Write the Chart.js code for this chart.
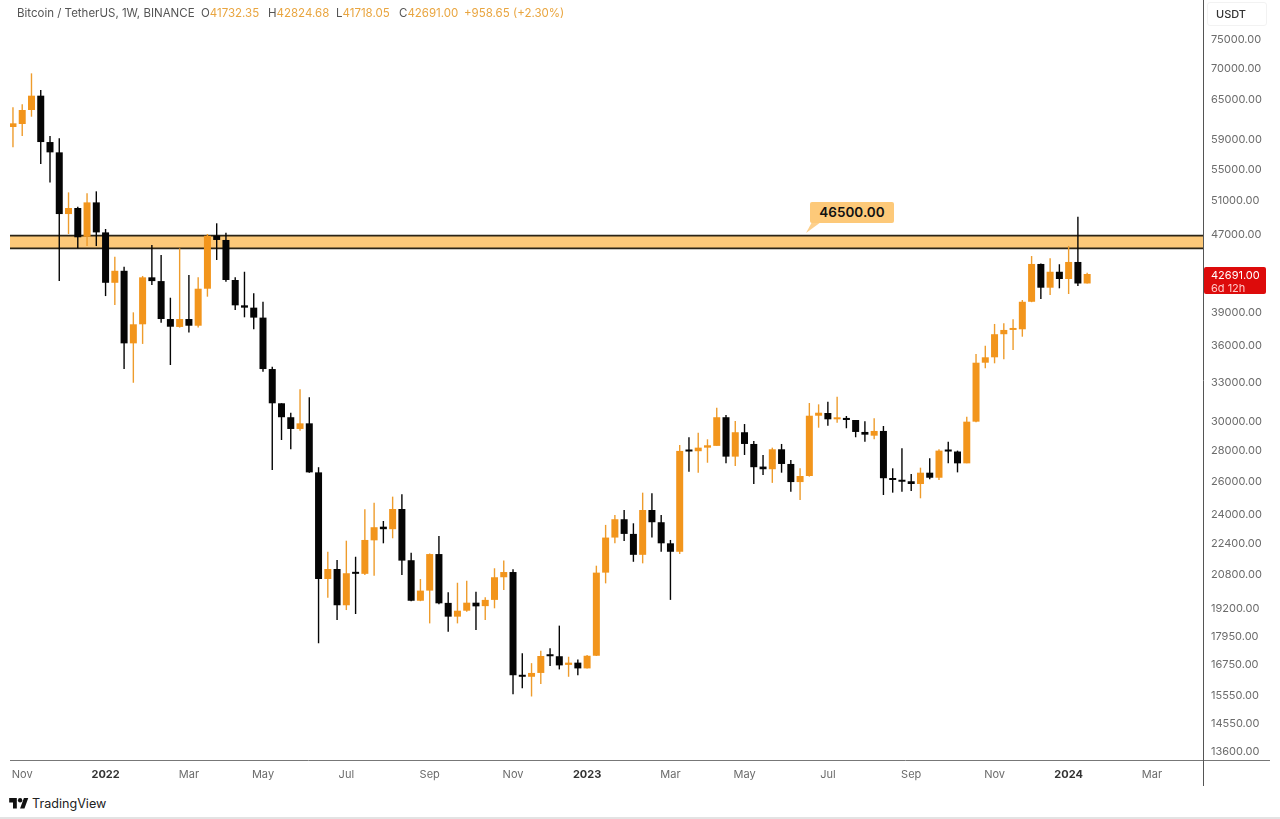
<!DOCTYPE html>
<html>
<head>
<meta charset="utf-8">
<title>Bitcoin / TetherUS</title>
<script src="https://cdn.jsdelivr.net/npm/chart.js@4"></script>
<style>
  html, body { margin: 0; padding: 0; background: #fff; }
  body { width: 1280px; height: 819px; position: relative; overflow: hidden; font-family: Inter, sans-serif; }
  canvas { position: absolute; left: 0; top: 0; }
  .abs { position: absolute; white-space: nowrap; }
  .hdr { top: 6px; font-size: 11.5px; line-height: 14px; color: #e9a53f; }
  .hdr b { font-weight: 400; color: #555; }
</style>
</head>
<body>
<canvas id="grafica" width="1280" height="786"></canvas>

<!-- Cabecera -->
<div class="abs hdr" style="left:17px;color:#555">Bitcoin / TetherUS, 1W, BINANCE</div>
<div class="abs hdr" style="left:201px"><b>O</b>41732.35</div>
<div class="abs hdr" style="left:268px"><b>H</b>42824.68</div>
<div class="abs hdr" style="left:336px"><b>L</b>41718.05</div>
<div class="abs hdr" style="left:399px"><b>C</b>42691.00</div>
<div class="abs hdr" style="left:464px">+958.65 (+2.30%)</div>

<!-- Eje de precios: moneda y etiqueta del último precio -->
<div class="abs" style="left:1207px;top:2px;width:60px;height:24px;border:1px solid #f2f2f2;border-radius:3px;box-sizing:border-box;font-size:11px;font-weight:500;line-height:22px;padding-left:8px;color:#333">USDT</div>
<div class="abs" style="left:1204px;top:267px;width:62px;height:27px;background:#dd0b0b;border-radius:2px;color:#fff;font-size:11px;line-height:13px;padding:2px 0 0 7px;box-sizing:border-box">42691.00<br><span style="color:#ffc9c9">6d 12h</span></div>

<!-- Etiqueta de la zona -->
<svg class="abs" style="left:800px;top:218px" width="40" height="18"><path d="M12 4 L21 4 L6 15 Z" fill="#fdd08c"/></svg>
<div class="abs" style="left:810px;top:202px;width:84px;height:21px;background:#fdc979;border-radius:2px;font-size:13.5px;font-weight:600;line-height:21px;text-align:center;color:#111">46500.00</div>

<!-- Líneas del eje que salen del área de la gráfica -->
<div class="abs" style="left:1203px;top:760px;width:67px;height:1px;background:#777"></div>
<div class="abs" style="left:1203px;top:760px;width:1px;height:26px;background:#555"></div>

<!-- Pie -->
<svg class="abs" style="left:9px;top:797px" width="20" height="12" viewBox="0 0 36 22"><path d="M14 21H7V10H0V2h14v19zM28 21h-8L27 2h8l-7 19z" fill="#111"/><circle cx="20" cy="6" r="4" fill="#111"/></svg>
<div class="abs" style="left:32px;top:795px;font-size:12.6px;line-height:17px;color:#222">TradingView</div>
<div class="abs" style="left:0;top:817px;width:1280px;height:2px;background:#e3e3e3"></div>

<script>
// --- Velas semanales (de izquierda a derecha) ---
const aperturas = [
  60730, 61170, 63260, 65470, 58580, 57150, 49290, 50010, 46680, 50690,
  47170, 41800, 43020, 36150, 37840, 42350, 41970, 38320, 37600, 38320,
  37710, 41210, 46790, 46320, 42080, 39600, 39380, 38450, 33990, 31310,
  30280, 29440, 29840, 26530, 20545, 21043, 19290, 20870, 20800, 22540,
  23290, 23150, 24300, 21490, 19500, 19980, 21810, 19400, 18770, 19040,
  19410, 19250, 19540, 20630, 20890, 16320, 16250, 16400, 17120, 17070,
  16720, 16810, 16580, 17090, 20860, 22690, 23710, 22890, 21770, 24240,
  23540, 22380, 21930, 28000, 27910, 28150, 28270, 30280, 27550, 29210,
  28400, 26900, 26730, 28040, 27070, 25920, 26300, 30390, 30590, 30130,
  30230, 30080, 29230, 28970, 29300, 26160, 26050, 25970, 25800, 26510,
  26190, 28000, 27890, 27110, 29960, 34510, 34960, 36950, 37330, 37390,
  39940, 43730, 41310, 42920, 42180, 43940, 41732.35
];
const maximos = [
  63670, 64130, 69070, 66370, 59430, 59110, 51920, 50170, 51800, 52050,
  47555, 44500, 43440, 38940, 42490, 45760, 44680, 40330, 45400, 42590,
  42350, 46990, 48210, 47130, 42350, 42920, 40760, 39940, 34180, 31310,
  30610, 32380, 31760, 26860, 21930, 21500, 22520, 21670, 24280, 24670,
  23610, 25030, 25170, 21880, 20545, 21840, 22780, 19900, 20360, 20460,
  19930, 19660, 21080, 21470, 21030, 17190, 16790, 17300, 17400, 18370,
  17050, 16940, 17120, 21210, 23390, 23950, 24240, 23480, 25270, 25230,
  23950, 22560, 28330, 28860, 29180, 28720, 30980, 30440, 30010, 29790,
  28600, 27660, 28150, 28400, 27330, 26790, 31330, 31230, 31430, 31800,
  30370, 30080, 29990, 30200, 29650, 26790, 28110, 26430, 26830, 27440,
  28040, 28550, 27950, 30320, 35240, 35950, 37870, 37940, 38290, 40110,
  44570, 43780, 44330, 43700, 45660, 48980, 42824.68
];
const minimos = [
  57840, 59430, 62250, 55570, 53180, 41970, 46990, 45400, 45650, 45650,
  40490, 39630, 33990, 32890, 36100, 41580, 37980, 34320, 37540, 37110,
  37540, 40430, 44150, 41900, 39160, 38480, 37390, 33770, 26680, 28670,
  28040, 29320, 26510, 17610, 19640, 18620, 19070, 18890, 20740, 20710,
  22380, 22650, 20740, 19480, 19480, 18470, 19340, 18100, 18470, 18990,
  18180, 18620, 19150, 20010, 15580, 15810, 15500, 15970, 16680, 16540,
  16250, 16310, 16580, 17080, 20330, 22380, 22500, 21410, 21330, 22690,
  21930, 19540, 21810, 26570, 26510, 27150, 28270, 27110, 26940, 27660,
  25800, 26370, 25870, 26510, 25330, 24830, 26260, 29530, 29670, 29880,
  29490, 28860, 28550, 28720, 25130, 25270, 25330, 25370, 24930, 26090,
  26050, 27110, 26530, 27110, 29920, 34050, 34460, 34790, 35580, 36730,
  39900, 40206, 40600, 41250, 40690, 41480, 41718.05
];
const cierres = [
  61270, 63260, 65470, 58580, 57150, 49290, 50010, 46620, 50690, 47170,
  41800, 43020, 36150, 37840, 42350, 41970, 38320, 37620, 38320, 37710,
  41210, 46790, 46320, 42080, 39600, 39380, 38450, 33990, 31310, 30280,
  29440, 29840, 26530, 20545, 21043, 19290, 20830, 20800, 22560, 23260,
  23150, 24300, 21470, 19500, 19980, 21810, 19380, 18770, 19040, 19410,
  19240, 19540, 20630, 20890, 16310, 16250, 16400, 17080, 17070, 16700,
  16810, 16580, 17090, 20860, 22690, 23710, 22890, 21770, 24240, 23540,
  22380, 21930, 27930, 27890, 28150, 28310, 30280, 27550, 29210, 28400,
  26860, 26730, 28040, 27070, 25920, 26300, 30390, 30610, 30130, 30230,
  30080, 29230, 29040, 29300, 26160, 26050, 25940, 25800, 26510, 26190,
  27950, 27890, 27110, 29960, 34510, 34960, 36950, 37330, 37420, 39940,
  43730, 41310, 42920, 42180, 43940, 41730, 42691
];

// --- Zona horizontal ---
const zonaSuperior = 46800;
const zonaInferior = 45400;

// --- Ejes ---
const ticksPrecio = [
  75000, 70000, 65000, 59000, 55000, 51000, 47000, 39000, 36000, 33000, 30000, 28000,
  26000, 24000, 22400, 20800, 19200, 17950, 16750, 15550, 14550, 13600
];
const ticksSemana = [1, 10, 19, 27, 36, 45, 54, 62, 71, 79, 88, 97, 106, 114, 123];
const ticksFecha = ['Nov', '2022', 'Mar', 'May', 'Jul', 'Sep', 'Nov', '2023', 'Mar', 'May', 'Jul', 'Sep', 'Nov', '2024', 'Mar'];

const NARANJA = '#f2951c';
const NARANJA_MECHA = '#ee9c2c';
const NEGRO = '#050505';

const semanas = aperturas.map((_, i) => i);
const esAlcista = semanas.map(i => cierres[i] >= aperturas[i]);

// Chart.js deja margen para medio texto en los extremos, aquí estorba
function sinMargenes(scale) {
    scale.paddingTop = 0;
    scale.paddingBottom = 0;
    scale.paddingLeft = 0;
    scale.paddingRight = 0;
}

new Chart(document.getElementById('grafica'), {
    type: 'bar',
    data: {
        datasets: [
            {
                type: 'line',
                data: [{ x: -1, y: zonaSuperior }, { x: 130, y: zonaSuperior }],
                borderColor: '#2b2417',
                borderWidth: 1.6,
                backgroundColor: '#fdc979',
                fill: '+1',
                pointRadius: 0,
                order: 4
            },
            {
                type: 'line',
                data: [{ x: -1, y: zonaInferior }, { x: 130, y: zonaInferior }],
                borderColor: '#2b2417',
                borderWidth: 1.6,
                pointRadius: 0,
                order: 3
            },
            {
                // Mechas
                data: semanas.map(i => ({ x: i, y: [minimos[i], maximos[i]] })),
                backgroundColor: esAlcista.map(a => a ? NARANJA_MECHA : NEGRO),
                maxBarThickness: 1.4,
                inflateAmount: 0,
                order: 2
            },
            {
                // Cuerpos
                data: semanas.map(i => ({ x: i, y: [aperturas[i], cierres[i]] })),
                backgroundColor: esAlcista.map(a => a ? NARANJA : NEGRO),
                maxBarThickness: 7,
                minBarLength: 2,
                inflateAmount: 0,
                order: 1
            }
        ]
    },
    options: {
        responsive: false,
        animation: false,
        events: [],
        layout: { padding: { left: 10 } },
        datasets: { bar: { grouped: false, barPercentage: 1, categoryPercentage: 1 } },
        plugins: {
            legend: { display: false },
            tooltip: { enabled: false }
        },
        scales: {
            x: {
                type: 'linear',
                offset: false,
                min: -0.32,
                max: 128.51,
                grid: { display: false, offset: false },
                border: { display: true, color: '#777', width: 1 },
                afterBuildTicks: scale => { scale.ticks = ticksSemana.map(v => ({ value: v })); },
                afterFit: scale => { scale.height = 26; sinMargenes(scale); },
                ticks: {
                    autoSkip: false,
                    maxRotation: 0,
                    padding: 0,
                    color: ctx => /^\d/.test(ticksFecha[ctx.index] || '') ? '#333' : '#6b6b6b',
                    font: ctx => ({
                        family: 'Inter',
                        size: 11,
                        weight: /^\d/.test(ticksFecha[ctx.index] || '') ? '700' : '400'
                    }),
                    callback: (val, idx) => ticksFecha[idx]
                }
            },
            y: {
                type: 'logarithmic',
                position: 'right',
                min: 13310,
                max: 82354,
                grid: { display: false },
                border: { display: true, color: '#555', width: 1 },
                afterBuildTicks: scale => { scale.ticks = ticksPrecio.map(v => ({ value: v })); },
                afterFit: scale => { scale.width = 77; sinMargenes(scale); },
                ticks: {
                    autoSkip: false,
                    padding: 0,
                    labelOffset: 1,
                    color: '#6b6b6b',
                    font: { family: 'Inter', size: 11 },
                    callback: val => Number(val).toFixed(2)
                }
            }
        }
    }
});
</script>
</body>
</html>
